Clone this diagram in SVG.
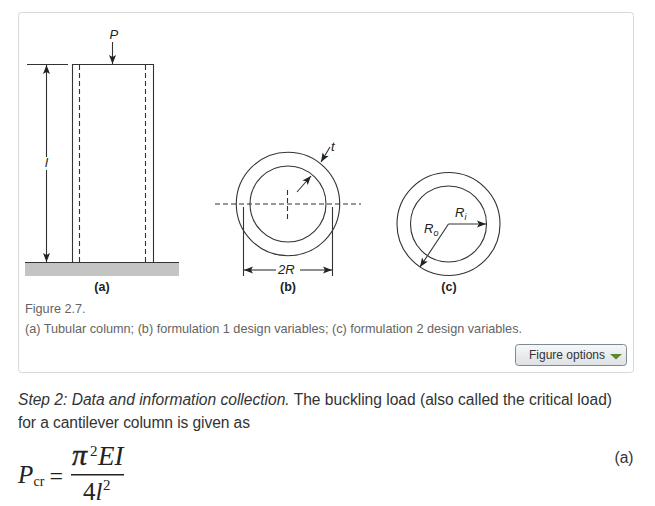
<svg xmlns="http://www.w3.org/2000/svg" width="655" height="506" viewBox="0 0 655 506">
<defs>
<marker id="ah" markerUnits="userSpaceOnUse" markerWidth="10" markerHeight="8" refX="9" refY="4" orient="auto"><path d="M0,0.5 L9,4 L0,7.5 L2,4 Z" fill="#222"/></marker>
<linearGradient id="btn" x1="0" y1="0" x2="0" y2="1"><stop offset="0" stop-color="#f6f8f9"/><stop offset="1" stop-color="#dde1e4"/></linearGradient>
</defs>
<style>
.s{fill:none;stroke:#333;stroke-width:1.1}
.d{fill:none;stroke:#333;stroke-width:1.1;stroke-dasharray:5 3}
.a{fill:none;stroke:#333;stroke-width:1.1;marker-end:url(#ah)}
text{font-family:"Liberation Sans",Arial,sans-serif}
.i{font-size:13px;font-style:italic;fill:#222}
.b{font-size:12.500px;font-weight:bold;fill:#222;text-anchor:middle}
.c{font-size:12.700px;fill:#646464}
.p{font-size:15.600px;fill:#333}
.m{font-family:"Liberation Serif","Times New Roman",serif;fill:#222}
</style>
<rect width="655" height="506" fill="#fff"/>
<rect id="panel" x="18.500" y="12.500" width="615" height="360" rx="3" fill="#fff" stroke="#d8d8d8"/>
<g id="column-a">
<rect x="25" y="262" width="154" height="14" fill="#c4c4c4"/>
<path class="s" d="M25,262.500H179M72.500,262V64.500H153.500V262"/>
<path class="d" d="M79.500,65V262M145.500,65V262"/>
<path class="s" d="M27,64.500H68"/>
<text class="i" x="109.500" y="39">P</text>
<text class="i" x="45" y="167">l</text>
<text class="b" x="102" y="291">(a)</text>
</g>
<g id="section-b">
<circle class="s" cx="288" cy="204" r="51.700"/>
<circle class="s" cx="288" cy="204" r="38"/>
<path class="d" d="M215,204H361"/>
<path class="d" d="M287.500,190V219" stroke-dasharray="4 3"/>
<path class="s" d="M243.500,207V276M332.500,207V276"/>
<text class="i" x="331" y="151">t</text>
<text class="i" x="278" y="274">2R</text>
<text class="b" x="288" y="291">(b)</text>
</g>
<g id="section-c">
<circle class="s" cx="448.500" cy="224" r="51.500"/>
<circle class="s" cx="448.500" cy="224" r="38"/>
<text class="i" x="455" y="217">R<tspan font-size="9" dy="3">i</tspan></text>
<text class="i" x="424" y="233">R<tspan font-size="9" dy="3">o</tspan></text>
<text class="b" x="449" y="291">(c)</text>
</g>
<g id="connectors">
<path class="a" d="M112.500,42V64"/>
<path class="a" d="M46.500,157V65"/>
<path class="a" d="M46.500,170V262"/>
<path class="a" d="M297,192L311,176"/>
<path class="a" d="M330,147L321,162"/>
<path class="a" d="M276,270H244"/>
<path class="a" d="M300,270H332"/>
<path class="a" d="M448.500,224H486"/>
<path class="a" d="M448.500,224L420,267"/>
</g>
<g id="caption">
<text class="c" x="25" y="313">Figure 2.7.</text>
<text class="c" x="25" y="333" textLength="497">(a) Tubular column; (b) formulation 1 design variables; (c) formulation 2 design variables.</text>
</g>
<g id="figure-options">
<rect x="515.500" y="344.500" width="111" height="21" rx="3" fill="url(#btn)" stroke="#7d8a93"/>
<text x="529" y="359" font-size="12" fill="#333">Figure options</text>
<path d="M610,354H622L616,359.500Z" fill="#5b8a2e"/>
</g>
<g id="body">
<text class="p" x="18" y="405" textLength="594"><tspan font-style="italic">Step 2: Data and information collection.</tspan> The buckling load (also called the critical load)</text>
<text class="p" x="18" y="428" textLength="232">for a cantilever column is given as</text>
<text x="614.500" y="463" font-size="15.600" fill="#333">(a)</text>
</g>
<g id="equation">
<text class="m" x="18" y="483" font-size="25" font-style="italic">P</text>
<text class="m" x="33.500" y="486" font-size="14">cr</text>
<text class="m" x="49.500" y="484" font-size="24">=</text>
<text class="m" x="72" y="465" font-size="30" font-style="italic" stroke="#222" stroke-width="0.400">π</text>
<text class="m" x="90" y="456" font-size="15">2</text>
<text class="m" x="98" y="465" font-size="27" font-style="italic">EI</text>
<rect x="71" y="474" width="53" height="1.500" fill="#222"/>
<text class="m" x="83" y="500" font-size="25">4<tspan font-style="italic">l</tspan></text>
<text class="m" x="103" y="490" font-size="15">2</text>
</g>
</svg>
